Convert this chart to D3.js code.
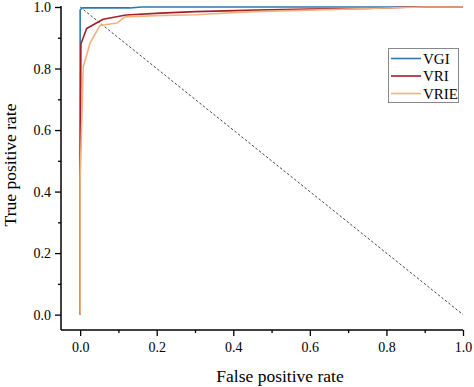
<!DOCTYPE html>
<html>
<head>
<meta charset="utf-8">
<script src="https://cdn.jsdelivr.net/npm/d3@7"></script>
<style>
  body { margin: 0; background: #fff; }
  svg { display: block; }
</style>
</head>
<body>
<div id="root"></div>
<script>
const seriesNames = ["VGI", "VRI", "VRIE"];
const seriesColors = ["#2e78ae", "#a3202a", "#f2b27e"];

const vgiFpr = [0, 0, 0.005, 0.13, 0.16, 0.5, 1.0];
const vgiTpr = [0, 0.99, 0.997, 0.997, 1.0, 1.0, 1.0];

const vriFpr = [0, 0, 0.002, 0.017, 0.06, 0.12, 0.21, 0.3, 0.46, 0.6, 0.75, 0.87, 1.0];
const vriTpr = [0, 0.41, 0.88, 0.93, 0.96, 0.974, 0.98, 0.985, 0.99, 0.993, 0.995, 1.0, 1.0];

const vrieFpr = [0, 0, 0.004, 0.008, 0.026, 0.052, 0.097, 0.117, 0.2, 0.3, 0.45, 0.6, 0.75, 0.9, 1.0];
const vrieTpr = [0, 0.45, 0.62, 0.805, 0.883, 0.94, 0.948, 0.968, 0.972, 0.975, 0.985, 0.99, 0.995, 1.0, 1.0];

const xTicks = [0, 0.2, 0.4, 0.6, 0.8, 1.0];
const yTicks = [0, 0.2, 0.4, 0.6, 0.8, 1.0];
const minorTicks = [0.1, 0.3, 0.5, 0.7, 0.9];

const series = [
  { name: seriesNames[0], color: seriesColors[0], x: vgiFpr, y: vgiTpr },
  { name: seriesNames[1], color: seriesColors[1], x: vriFpr, y: vriTpr },
  { name: seriesNames[2], color: seriesColors[2], x: vrieFpr, y: vrieTpr }
];

const width = 474;
const height = 387;
const font = "'Liberation Serif', 'Times New Roman', serif";

const x = d3.scaleLinear().domain([-0.05, 1.0]).range([61, 463]);
const y = d3.scaleLinear().domain([-0.05, 1.0]).range([330, 7]);

const svg = d3.select("#root")
  .append("svg")
  .attr("width", width)
  .attr("height", height);

// diagonal reference
svg.append("line")
  .attr("x1", x(0)).attr("y1", y(1))
  .attr("x2", x(1)).attr("y2", y(0))
  .attr("stroke", "#444")
  .attr("stroke-width", 1)
  .attr("stroke-dasharray", "2.5,2");

const line = d3.line()
  .x(d => x(d[0]))
  .y(d => y(d[1]));

series.forEach(s => {
  svg.append("path")
    .datum(s.x.map((v, i) => [v, s.y[i]]))
    .attr("fill", "none")
    .attr("stroke", s.color)
    .attr("stroke-width", 1.6)
    .attr("stroke-linejoin", "round")
    .attr("d", line);
});

// axes
const xAxis = svg.append("g")
  .attr("transform", `translate(0,${y(-0.05)})`)
  .call(d3.axisBottom(x).tickValues(xTicks).tickFormat(d3.format(".1f")).tickSize(6).tickPadding(6));
const xMinor = svg.append("g")
  .attr("transform", `translate(0,${y(-0.05)})`)
  .call(d3.axisBottom(x).tickValues(minorTicks).tickFormat("").tickSize(3));

const yAxis = svg.append("g")
  .attr("transform", `translate(${x(-0.05)},0)`)
  .call(d3.axisLeft(y).tickValues(yTicks).tickFormat(d3.format(".1f")).tickSize(6).tickPadding(4));
const yMinor = svg.append("g")
  .attr("transform", `translate(${x(-0.05)},0)`)
  .call(d3.axisLeft(y).tickValues(minorTicks).tickFormat("").tickSize(3));

[xAxis, xMinor, yAxis, yMinor].forEach(g => {
  g.select(".domain").attr("stroke", "#000").attr("stroke-width", 1.5);
  g.selectAll(".tick line").attr("stroke", "#000").attr("stroke-width", 1.3);
  g.selectAll("text")
    .attr("fill", "#000")
    .style("font-family", font)
    .style("font-size", "14px");
});
xMinor.select(".domain").remove();
yMinor.select(".domain").remove();
xAxis.select(".domain").attr("d", `M${x(-0.05)},0H${x(1)}`);
yAxis.select(".domain").attr("d", `M0,${y(-0.05)}V${y(1) - 1}`);

// axis titles
svg.append("text")
  .attr("x", 280).attr("y", 382)
  .attr("text-anchor", "middle")
  .style("font-family", font)
  .style("font-size", "17.5px")
  .attr("fill", "#000")
  .text("False positive rate");

svg.append("text")
  .attr("transform", "translate(16,165) rotate(-90)")
  .attr("text-anchor", "middle")
  .style("font-family", font)
  .style("font-size", "17.5px")
  .attr("fill", "#000")
  .text("True positive rate");

// legend
const legend = svg.append("g");
legend.append("rect")
  .attr("x", 388.5).attr("y", 48.5)
  .attr("width", 70).attr("height", 54)
  .attr("fill", "#fff")
  .attr("stroke", "#888")
  .attr("stroke-width", 1);

series.forEach((s, i) => {
  const ly = 58.5 + i * 17.5;
  legend.append("line")
    .attr("x1", 391).attr("x2", 421)
    .attr("y1", ly).attr("y2", ly)
    .attr("stroke", s.color)
    .attr("stroke-width", 1.6);
  legend.append("text")
    .attr("x", 423).attr("y", ly + 5)
    .style("font-family", font)
    .style("font-size", "15px")
    .attr("fill", "#000")
    .text(s.name);
});
</script>
</body>
</html>
